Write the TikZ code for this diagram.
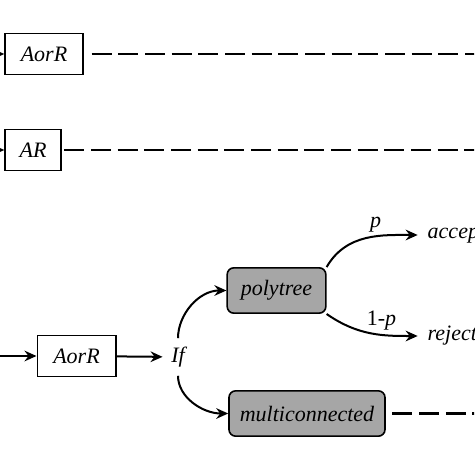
\documentclass[tikz,border=0pt]{standalone}
\usepackage{fontspec}
\setmainfont{Liberation Serif}
\usepackage{tikz}
\usetikzlibrary{arrows.meta,positioning}
\definecolor{boxGray}{HTML}{A6A6A6}

\begin{document}
\begin{tikzpicture}[
  x=0.75pt,y=-0.75pt,
  font=\fontsize{16.5}{19}\selectfont\itshape,
  plainbox/.style={draw,line width=1pt,minimum height=31pt,inner sep=0pt},
  greybox/.style={draw,line width=1.2pt,fill=boxGray,rounded corners=5pt,minimum height=34pt,inner sep=0pt},
  arrow/.style={-{Stealth[length=9pt,width=8pt,inset=3pt]},line width=1.5pt},
  dashline/.style={line width=2.2pt,dash pattern=on 15pt off 5pt}
]
\useasboundingbox (0,0) rectangle (474,474);
\clip (0,0) rectangle (474,474);
% upper rows
\node[plainbox,minimum width=58.5pt] (aorrTop) at (44,54) {AorR};
\node[plainbox,minimum width=42pt] (ar) at (33,150) {AR};
\coordinate (inTop) at (-40,54);
\coordinate (inAr) at (-40,150);
\coordinate (endTop) at (500,54);
\coordinate (endAr) at (500,150);
\draw[arrow] (inTop) -- (aorrTop);
\draw[arrow] (inAr) -- (ar);
\draw[dashline,shorten <=6pt] (aorrTop) -- (endTop);
\draw[dashline,shorten <=2pt] (ar) -- (endAr);
% lower row
\node[plainbox,minimum width=59pt] (aorrLow) at (76.5,356) {AorR};
\node (cond) at (178,357) {If};
\node[greybox,minimum width=74pt] (poly) at (276.5,290.5) {polytree};
\node[greybox,minimum width=117pt] (multi) at (307,413.5) {multiconnected};
\node[anchor=west] (acc) at (423,235) {accept};
\node[anchor=west] (rej) at (423,336) {reject};
\coordinate (inLow) at (-20,356);
\coordinate (endMulti) at (500,413.5);
\draw[arrow] (inLow) -- (aorrLow);
\draw[arrow,shorten >=3pt] (aorrLow) -- (cond);
\draw[arrow,shorten <=3pt] (cond.north) to[out=90,in=180] (poly.west);
\draw[arrow,shorten <=3pt] (cond.south) to[out=-90,in=180] (multi.west);
\draw[arrow,shorten >=4pt] (poly.north east) to[out=60,in=180]
  node[pos=0.58,above=-1pt] (plab) {p} (acc.west);
\draw[arrow,shorten >=4pt] (poly.south east) to[out=-35,in=180]
  node[pos=0.6,above=-1pt] (qlab) {{\upshape 1-}p} (rej.west);
\draw[dashline,shorten <=5pt] (multi) -- (endMulti);
\end{tikzpicture}
\end{document}
